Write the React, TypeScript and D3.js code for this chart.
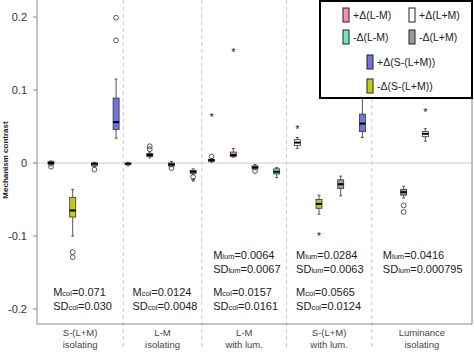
import React from 'react';
import * as d3 from 'd3';

// categories on the x axis (two label lines each)
const categories = [
  ['S-(L+M)', 'isolating'],
  ['L-M', 'isolating'],
  ['L-M', 'with lum.'],
  ['S-(L+M)', 'with lum.'],
  ['Luminance', 'isolating'],
];

const seriesNames = ['+Δ(L-M)', '-Δ(L-M)', '+Δ(L+M)', '-Δ(L+M)', '+Δ(S-(L+M))', '-Δ(S-(L+M))'];
const seriesColors = ['#f48fc0', '#72e6c6', '#ffffff', '#9c9c9c', '#7272e4', '#c4cc10'];

type Box = { s: number; lo: number; q1: number; med: number; q3: number; hi: number; out?: number[]; ext?: number[] };

// s = index into seriesNames
const sIsolating: Box[] = [
  { s: 2, lo: -0.004, q1: -0.002, med: 0, q3: 0.002, hi: 0.003, out: [-0.005] },
  { s: 5, lo: -0.1, q1: -0.074, med: -0.065, q3: -0.047, hi: -0.036, out: [-0.122, -0.129] },
  { s: 3, lo: -0.005, q1: -0.004, med: -0.001, q3: 0, hi: 0.001, out: [-0.009] },
  { s: 4, lo: 0.034, q1: 0.046, med: 0.056, q3: 0.089, hi: 0.115, out: [0.168, 0.199] },
];
const lmIsolating: Box[] = [
  { s: 2, lo: -0.004, q1: -0.002, med: -0.001, q3: 0, hi: 0.001 },
  { s: 0, lo: 0.007, q1: 0.009, med: 0.011, q3: 0.013, hi: 0.015, out: [0.019, 0.023] },
  { s: 3, lo: -0.005, q1: -0.004, med: -0.002, q3: 0, hi: 0.002, out: [-0.007] },
  { s: 1, lo: -0.016, q1: -0.014, med: -0.012, q3: -0.01, hi: -0.008, out: [-0.019], ext: [-0.025] },
];
const lmWithLum: Box[] = [
  { s: 2, lo: 0.001, q1: 0.002, med: 0.004, q3: 0.005, hi: 0.006, out: [0.009], ext: [0.064] },
  { s: 0, lo: 0.008, q1: 0.009, med: 0.011, q3: 0.015, hi: 0.02, ext: [0.153] },
  { s: 3, lo: -0.009, q1: -0.008, med: -0.006, q3: -0.004, hi: -0.002, out: [-0.011] },
  { s: 1, lo: -0.02, q1: -0.015, med: -0.012, q3: -0.008, hi: -0.006 },
];
const sWithLum: Box[] = [
  { s: 2, lo: 0.02, q1: 0.024, med: 0.028, q3: 0.032, hi: 0.035, ext: [0.048] },
  { s: 5, lo: -0.07, q1: -0.062, med: -0.056, q3: -0.05, hi: -0.044, ext: [-0.099] },
  { s: 3, lo: -0.045, q1: -0.035, med: -0.029, q3: -0.023, hi: -0.018 },
  { s: 4, lo: 0.035, q1: 0.043, med: 0.054, q3: 0.067, hi: 0.089 },
];
const lumIsolating: Box[] = [
  { s: 3, lo: -0.048, q1: -0.044, med: -0.04, q3: -0.036, hi: -0.032, out: [-0.058, -0.067] },
  { s: 2, lo: 0.03, q1: 0.036, med: 0.04, q3: 0.043, hi: 0.047, ext: [0.071] },
];
const groups = [sIsolating, lmIsolating, lmWithLum, sWithLum, lumIsolating];

// mean / SD annotations per category
const statsLum: (string[] | null)[] = [null, null, ['0.0064', '0.0067'], ['0.0284', '0.0063'], ['0.0416', '0.000795']];
const statsCol: (string[] | null)[] = [['0.071', '0.030'], ['0.0124', '0.0048'], ['0.0157', '0.0161'], ['0.0565', '0.0124'], null];

const yTicks = [-0.2, -0.1, 0, 0.1, 0.2];

const W = 474;
const H = 353;
const plot = { left: 37, right: 472, top: 0, bottom: 324 };
const font = '"Liberation Sans", Arial, sans-serif';

const y = d3.scaleLinear().domain([-0.2205, 0.2233]).range([plot.bottom, plot.top]);
// x in "box slots"; one slot per box, small gaps between categories
const x = d3.scaleLinear().domain([-0.645, 19.4]).range([plot.left, plot.right]);
const groupStart = [0, 3.55, 7.4, 11.35, 16.25];
const groupSep = [3.33, 6.95, 10.85, 14.78];
const edges = [x.domain()[0], ...groupSep, x.domain()[1]].map(d => x(d));
const centers = categories.map((_, i) => (edges[i] + edges[i + 1]) / 2);
const statsShift = [27, 30, 31, 33, 39];

const tickFmt = (d: number) => (d === 0 ? '0' : d3.format('.1f')(d).replace('−', '-'));

const BoxMark = ({ b, cx }: { b: Box; cx: number }) => {
  const bw = 6;
  return (
    <g>
      <line x1={cx} x2={cx} y1={y(b.hi)} y2={y(b.lo)} stroke="#555" strokeWidth={1} />
      <line x1={cx - 1.5} x2={cx + 1.5} y1={y(b.hi)} y2={y(b.hi)} stroke="#555" />
      <line x1={cx - 1.5} x2={cx + 1.5} y1={y(b.lo)} y2={y(b.lo)} stroke="#555" />
      <rect x={cx - bw / 2} y={y(b.q3)} width={bw} height={Math.max(1.5, y(b.q1) - y(b.q3))}
        fill={seriesColors[b.s]} stroke="#333" strokeWidth={0.8} />
      <line x1={cx - bw / 2} x2={cx + bw / 2} y1={y(b.med)} y2={y(b.med)} stroke="#000" strokeWidth={2} />
      {(b.out || []).map((o, k) => (
        <circle key={k} cx={cx} cy={y(o)} r={2.4} fill="none" stroke="#444" strokeWidth={0.9} />
      ))}
      {(b.ext || []).map((o, k) => (
        <text key={k} x={cx} y={y(o) + 5} textAnchor="middle" fontSize={11} fill="#222" fontFamily={font}>*</text>
      ))}
    </g>
  );
};

const Stat = ({ x0, y0, name, sub, val }: { x0: number; y0: number; name: string; sub: string; val: string }) => (
  <text x={x0} y={y0} fontSize={11} fill="#222" fontFamily={font}>
    {name}<tspan fontSize={7.5}>{sub}</tspan>={val}
  </text>
);

const App = () => {
  const legendRows = [
    { items: [{ s: 0, x: 343 }, { s: 2, x: 409 }], yc: 15 },
    { items: [{ s: 1, x: 343 }, { s: 3, x: 409 }], yc: 37 },
    { items: [{ s: 4, x: 367 }], yc: 62 },
    { items: [{ s: 5, x: 367 }], yc: 86 },
  ];
  return (
    <svg width={W} height={H} style={{ position: 'absolute', left: 0, top: 0, background: '#fff' }}>
      {/* zero line */}
      <line x1={plot.left - 4} x2={plot.right} y1={y(0)} y2={y(0)} stroke="#cfcfcf" />
      {/* category separators */}
      {groupSep.map((d, i) => (
        <line key={i} x1={x(d)} x2={x(d)} y1={0} y2={350} stroke="#c8c8c8" strokeDasharray="4,3" />
      ))}
      {/* frame */}
      <line x1={plot.left} x2={plot.left} y1={plot.top} y2={plot.bottom} stroke="#8a8a8a" />
      <line x1={plot.left} x2={plot.right} y1={plot.bottom} y2={plot.bottom} stroke="#8a8a8a" />
      <line x1={plot.right} x2={plot.right} y1={plot.top} y2={plot.bottom} stroke="#8a8a8a" />
      {/* y axis */}
      {yTicks.map(t => (
        <g key={t}>
          <line x1={plot.left - 4} x2={plot.left} y1={y(t)} y2={y(t)} stroke="#8a8a8a" />
          <text x={27} y={y(t) + 4} textAnchor="end" fontSize={11} fill="#333" fontFamily={font}>{tickFmt(t)}</text>
        </g>
      ))}
      <text transform="translate(8,160) rotate(-90)" textAnchor="middle" fontSize={8} fontWeight="bold"
        fill="#222" fontFamily={font}>Mechanism contrast</text>
      {/* boxes */}
      {groups.map((g, gi) => g.map((b, bi) => (
        <BoxMark key={`${gi}-${bi}`} b={b} cx={x(groupStart[gi] + bi)} />
      )))}
      {/* annotations */}
      {categories.map((_, i) => {
        const x0 = centers[i] - statsShift[i];
        const lum = statsLum[i];
        const col = statsCol[i];
        return (
          <g key={i}>
            {lum && <Stat x0={x0} y0={259} name="M" sub="lum" val={lum[0]} />}
            {lum && <Stat x0={x0} y0={273} name="SD" sub="lum" val={lum[1]} />}
            {col && <Stat x0={x0} y0={296} name="M" sub="col" val={col[0]} />}
            {col && <Stat x0={x0} y0={310} name="SD" sub="col" val={col[1]} />}
          </g>
        );
      })}
      {/* category labels */}
      {categories.map((c, i) => (
        <text key={i} textAnchor="middle" fontSize={9.5} fill="#444" fontFamily={font}>
          <tspan x={centers[i]} y={336}>{c[0]}</tspan>
          <tspan x={centers[i]} y={348}>{c[1]}</tspan>
        </text>
      ))}
      {/* legend */}
      <rect x={320} y={1} width={152} height={97} fill="#fff" stroke="#000" strokeWidth={2} />
      {legendRows.map((r, ri) => r.items.map(it => (
        <g key={`${ri}-${it.s}`}>
          <rect x={it.x} y={r.yc - 7} width={6} height={14} fill={seriesColors[it.s]} stroke="#222" strokeWidth={1} />
          <text x={it.x + 10} y={r.yc + 4} fontSize={10.5} fill="#222" fontFamily={font}>{seriesNames[it.s]}</text>
        </g>
      )))}
    </svg>
  );
};

export default App;
